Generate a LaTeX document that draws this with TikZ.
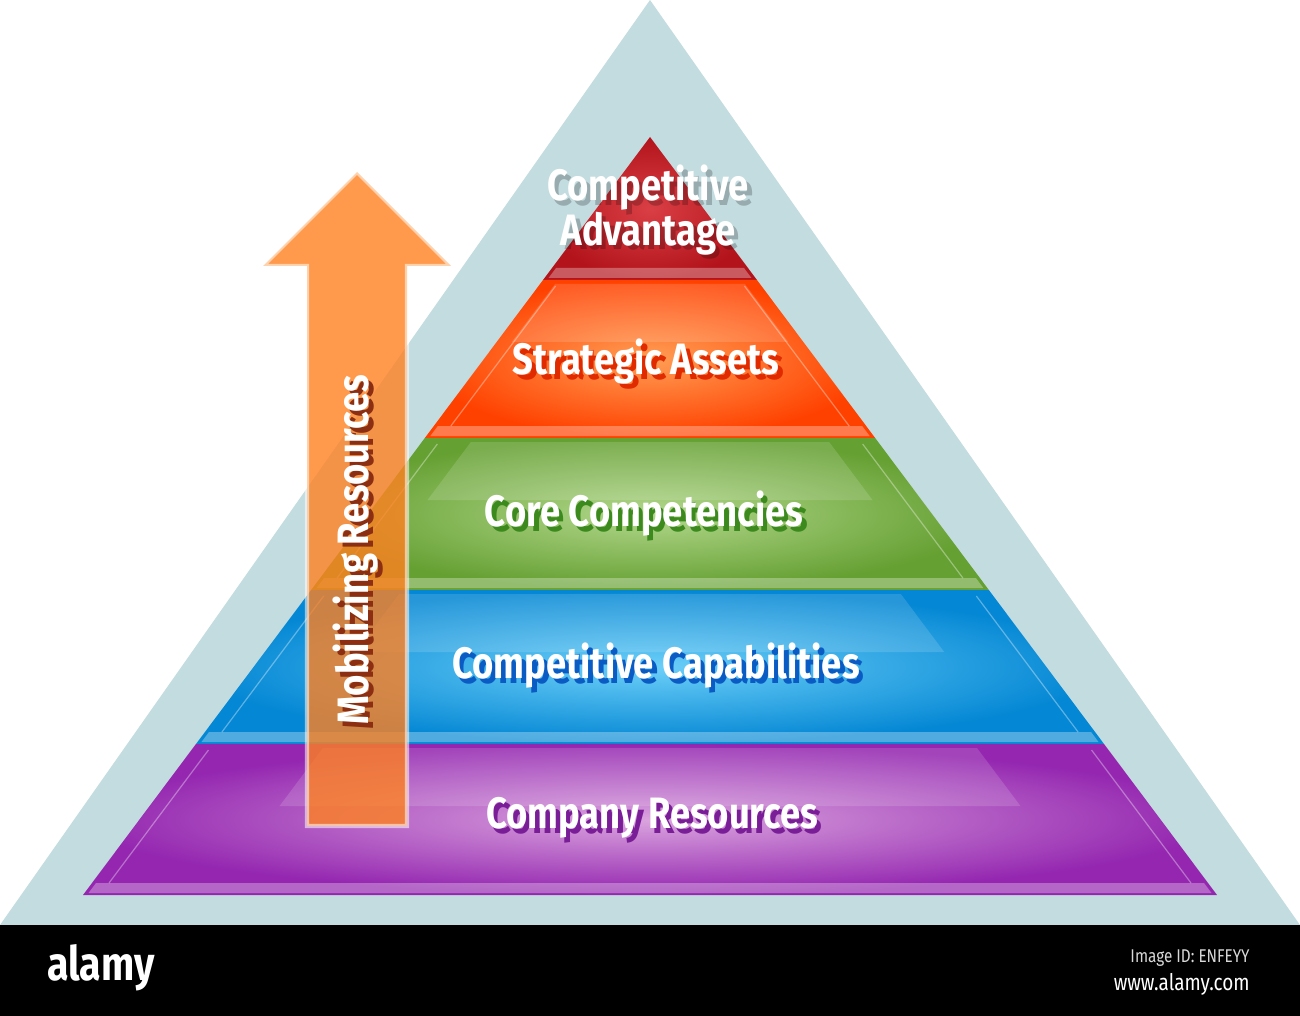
\documentclass[tikz,border=0pt]{standalone}
\usepackage{fontspec}
\newfontfamily\lblfont[FakeStretch=0.83]{Fira Sans}
\usetikzlibrary{calc}
\definecolor{bgtri}{HTML}{C3DCDF}
\definecolor{redb}{HTML}{B3141C}\definecolor{redl}{HTML}{DA3F45}
\definecolor{orab}{HTML}{FF4100}\definecolor{oral}{HTML}{FF9E55}
\definecolor{greb}{HTML}{65A032}\definecolor{grel}{HTML}{B2D78C}
\definecolor{blub}{HTML}{0487D4}\definecolor{blul}{HTML}{6CCFF8}
\definecolor{purb}{HTML}{9426B0}\definecolor{purl}{HTML}{DAA4DE}
\definecolor{arrowc}{HTML}{FF8121}
\definecolor{orash}{HTML}{E02A00}\definecolor{gresh}{HTML}{3C8A1E}\definecolor{blush}{HTML}{0A5CC4}
\definecolor{pursh}{HTML}{7A1E98}\definecolor{arrsh}{HTML}{8B2E12}
\tikzset{lbl/.style={font=\lblfont\bfseries\fontsize{25}{25.5}\selectfont,text=white,inner sep=0pt,align=center},
  shd/.style={lbl,text=#1,xshift=2.6pt,yshift=-2.6pt},
  band/.style={fill=white,fill opacity=.3},glass/.style={fill=white,fill opacity=.14},
  rim/.style={draw=white,draw opacity=.35,line width=.7pt}}
\newcommand\shtext[4][]{\node[shd={#3},#1] (#2-sh) at (#2-pos) {#4};\node[lbl,#1] (#2) at (#2-pos) {#4};}

\begin{document}
\begin{tikzpicture}[x=0.02cm,y=-0.02cm]
\useasboundingbox (0,0) rectangle (1300,1016);
\fill[bgtri] (650,0) -- (1300,925) -- (0,925) -- cycle;
% layers, bottom edges on the slope 0.748 from the apex (650,137)
\foreach \t/\b/\cb/\cl in {137/280/redb/redl,280/438/orab/oral,438/590/greb/grel,590/744/blub/blul,744/895/purb/purl}{
  \pgfmathsetmacro\wt{0.748*(\t-137)}\pgfmathsetmacro\wb{0.748*(\b-137)}
  \pgfmathsetmacro\wu{0.748*(\b-149)}\pgfmathsetmacro\wv{0.748*(\b-139)}
  \shade[inner color=\cl,outer color=\cb] (650-\wt,\t) -- (650+\wt,\t) -- (650+\wb,\b) -- (650-\wb,\b) -- cycle;
  \fill[band] (654-\wu,\b-12) -- (646+\wu,\b-12) -- (646+\wv,\b-2) -- (654-\wv,\b-2) -- cycle;
}
\foreach \t/\b/\k in {280/438/15,438/590/49,590/744/91,744/895/130}{
  \pgfmathsetmacro\wa{0.748*(\t-133)-\k}\pgfmathsetmacro\wc{0.748*(\t-75)-\k}
  \pgfmathsetmacro\ra{0.748*(\t-131)-17}\pgfmathsetmacro\rc{0.748*(\b-149)-17}
  \fill[glass] (650-\wa,\t+4) -- (650+\wa,\t+4) -- (650+\wc,\t+62) -- (650-\wc,\t+62) -- cycle;
  \draw[rim] (650-\ra,\t+6) -- (650-\rc,\b-12) (650+\ra,\t+6) -- (650+\rc,\b-12);
}
% arrow
\draw[fill=arrowc,fill opacity=.8,draw=white,draw opacity=.55,line width=2.3pt]
  (307,826) -- (307,266) -- (263,266) -- (357,172) -- (451,266) -- (407,266) -- (407,826) -- cycle;
% labels
\coordinate (adv-pos) at (648,210);\coordinate (sa-pos) at (646,362);\coordinate (cc-pos) at (644,514);
\coordinate (cap-pos) at (656,666);\coordinate (res-pos) at (652,818);\coordinate (mob-pos) at (356,550);
\shtext{adv}{black,text opacity=.22}{Competitive\\Advantage}
\shtext{sa}{orash}{Strategic Assets}
\shtext{cc}{gresh}{Core Competencies}
\shtext{cap}{blush}{Competitive Capabilities}
\shtext{res}{pursh}{Company Resources}
\shtext[rotate=90]{mob}{arrsh}{Mobilizing Resources}
% footer bar
\fill[black] (0,925) rectangle (1300,1016);
\node[font=\lblfont\bfseries\fontsize{27}{27}\selectfont,text=white,inner sep=0pt] (logo) at (101,968) {alamy};
\node[font=\lblfont\fontsize{10.5}{10.5}\selectfont,text=white!85!black,anchor=east,inner sep=0pt] (imgid) at (1250,958) {Image ID: ENFEYY};
\node[font=\lblfont\fontsize{13}{13}\selectfont,text=white,anchor=east,inner sep=0pt] (site) at (1250,984) {www.alamy.com};
\end{tikzpicture}
\end{document}
